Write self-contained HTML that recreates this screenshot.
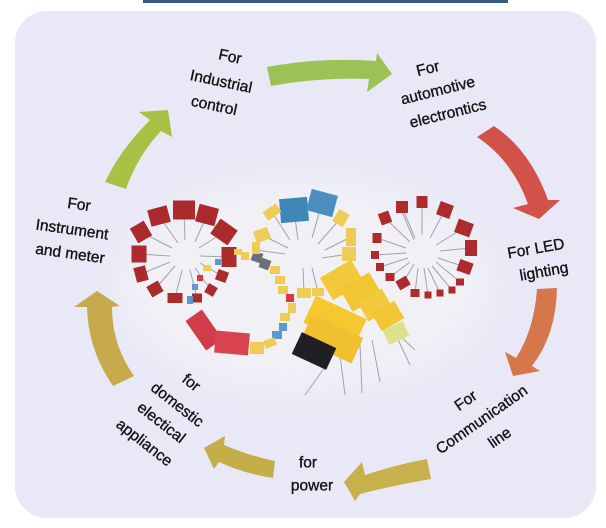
<!DOCTYPE html>
<html><head><meta charset="utf-8"><style>
html,body{margin:0;padding:0;background:#fff;}
svg{display:block;}
text{font-family:"Liberation Sans",sans-serif;font-size:15.5px;fill:#141414;stroke:#141414;stroke-width:0.35px;}
</style></head><body>
<svg width="606" height="528" viewBox="0 0 606 528" xmlns="http://www.w3.org/2000/svg">
<defs>
<filter id="bl" x="-20%" y="-20%" width="140%" height="140%"><feGaussianBlur stdDeviation="18"/></filter>
</defs>
<rect x="143" y="0" width="365" height="3" fill="#35597f"/>
<rect x="15" y="11" width="581" height="507" rx="32" fill="#e8e8f7"/>
<ellipse cx="305" cy="285" rx="190" ry="110" fill="#f0f0f5" filter="url(#bl)"/>

<!-- arrows -->
<path d="M267,67 Q320,57 376,61 L377,53 L392,74 L367,92 L369,79 Q320,77 271,86 Z" fill="#9cc154"/>
<path d="M477,137 L494,126 Q530,150 548,200 L560,200 L539,219 L513,208 L528,204 Q512,160 477,137 Z" fill="#d2524a"/>
<path d="M537,289 L557,288 Q556,335 532,366 L540,371 L513,376 L505,352 L516,358 Q534,330 537,289 Z" fill="#d5774a"/>
<path d="M427,459 L431,479 Q395,485 360,494 L355,501 L344,482 L362,462 L365,475 Q395,465 427,459 Z" fill="#c8b04c"/>
<path d="M275,461 L273,478 Q245,474 219,462 L214,469 L204,448 L225,436 L224,445 Q250,456 275,461 Z" fill="#c5ad4a"/>
<path d="M113,386 L134,376 Q112,345 112,307 L120,306 L97,291 L74,307 L87,307 Q88,350 113,386 Z" fill="#c6aa4b"/>
<path d="M105,182 L126,189 Q138,155 161,131 L172,137 L168,110 L139,112 L150,120 Q120,150 105,182 Z" fill="#a8c043"/>

<!-- wires -->
<g stroke="#a3a3ad" stroke-width="1" fill="none">
<path d="M141,232L172,248M159,216L178,243M184,210L185,240M207,215L195,242M224,232L199,248M229,257L200,256M222,276L200,263M211,290L195,268M139,254L170,256M141,274L170,262M155,289L175,266M175,298L182,270M197,298L190,270"/>
<path d="M294,210L298,240M322,203L312,238M272,212L290,240M262,235L288,248M256,250L285,254M351,237L325,250M349,254L322,258M341,218L318,244M304,293L303,268M318,292L312,268"/>
<path d="M402,207L415,238M422,202L422,235M445,210L430,238M464,228L436,245M471,248L440,251M465,267L438,258M460,282L436,262M452,290L432,266M440,293L428,268M428,295L424,268M415,293L418,268M403,283L414,264M390,277L410,262M380,267L408,258M375,255L406,253M377,238L406,248M385,218L410,242M400,207L414,240"/>
<path d="M360,345L362,393M372,340L380,382M395,333L410,365M388,325L415,350M330,360L305,395M340,355L345,395"/>
</g>

<!-- left red ring -->
<g fill="#ab2a2c">
<rect transform="translate(141,232) rotate(-30)" x="-8" y="-8.5" width="16" height="17"/>
<rect transform="translate(159,216) rotate(-15)" x="-10" y="-8.5" width="20" height="17"/>
<rect transform="translate(184,210)" x="-11" y="-9.5" width="22" height="19"/>
<rect transform="translate(207,215) rotate(15)" x="-10" y="-9" width="20" height="18"/>
<rect transform="translate(224,232) rotate(35)" x="-10.5" y="-9" width="21" height="18"/>
<rect transform="translate(229,257)" x="-7.5" y="-10" width="15" height="20"/>
<rect transform="translate(222,276) rotate(20)" x="-5.5" y="-5.5" width="11" height="11"/>
<rect transform="translate(211,290) rotate(30)" x="-5" y="-5" width="10" height="10"/>
<rect transform="translate(139,254)" x="-7.5" y="-8.5" width="15" height="17"/>
<rect transform="translate(141,274) rotate(-15)" x="-6" y="-7.5" width="12" height="15"/>
<rect transform="translate(155,289) rotate(-30)" x="-6.5" y="-6" width="13" height="12"/>
<rect transform="translate(175,298)" x="-7.5" y="-5" width="15" height="10"/>
<rect transform="translate(197,298)" x="-5" y="-4.5" width="10" height="9"/>
</g>

<!-- middle-left ring -->
<g>
<rect transform="translate(238,252)" x="-4" y="-3" width="8" height="6" fill="#efcc55"/>
<rect transform="translate(245,256)" x="-4" y="-4" width="8" height="8" fill="#efcc55"/>
<rect transform="translate(257,257) rotate(20)" x="-5" y="-5" width="10" height="10" fill="#6d6f78"/>
<rect transform="translate(265,264) rotate(20)" x="-5" y="-5" width="10" height="10" fill="#6d6f78"/>
<rect transform="translate(275,270)" x="-5" y="-4" width="10" height="8" fill="#efcc55"/>
<rect transform="translate(280,280)" x="-5" y="-4" width="10" height="8" fill="#efcc55"/>
<rect transform="translate(283,290)" x="-5" y="-4" width="10" height="8" fill="#efcc55"/>
<rect transform="translate(290,298)" x="-4" y="-4" width="8" height="8" fill="#d83a3a"/>
<rect transform="translate(292,308)" x="-4" y="-5" width="8" height="10" fill="#efcc55"/>
<rect transform="translate(285,317)" x="-5" y="-4" width="10" height="8" fill="#efcc55"/>
<rect transform="translate(283,327)" x="-4" y="-4" width="8" height="8" fill="#5a9ad0"/>
<rect transform="translate(277,335)" x="-5" y="-4" width="10" height="8" fill="#5a9ad0"/>
<rect transform="translate(270,343) rotate(-20)" x="-6" y="-4" width="12" height="8" fill="#efcc55"/>
<rect transform="translate(257,348)" x="-7" y="-6" width="14" height="12" fill="#efcc55"/>
<rect transform="translate(195,287)" x="-3" y="-3" width="6" height="6" fill="#5a9ad0"/>
<rect transform="translate(200,278)" x="-3" y="-3" width="6" height="6" fill="#d83a3a"/>
<rect transform="translate(207,268)" x="-4" y="-3" width="8" height="6" fill="#efcc55"/>
<rect transform="translate(218,262)" x="-3" y="-3" width="6" height="6" fill="#5a9ad0"/>
<rect transform="translate(190,300)" x="-3" y="-4" width="6" height="8" fill="#5a9ad0"/>
<rect transform="translate(204,330) rotate(55)" x="-18" y="-10" width="36" height="20" fill="#d23c4a"/>
<rect transform="translate(232,343) rotate(5)" x="-17" y="-11" width="34" height="22" fill="#d8434f"/>
</g>

<!-- middle ring -->
<g>
<rect transform="translate(294,210) rotate(-5)" x="-14" y="-12" width="28" height="24" fill="#3f86b8"/>
<rect transform="translate(322,203) rotate(15)" x="-13.5" y="-11" width="27" height="22" fill="#4a8fbf"/>
<rect transform="translate(272,212) rotate(-35)" x="-8" y="-5" width="16" height="10" fill="#efcc55"/>
<rect transform="translate(262,235) rotate(-20)" x="-7.5" y="-6" width="15" height="12" fill="#efcc55"/>
<rect transform="translate(256,248)" x="-4" y="-6" width="8" height="12" fill="#efcc55"/>
<rect transform="translate(341,218) rotate(30)" x="-6" y="-7" width="12" height="14" fill="#efcc55"/>
<rect transform="translate(351,237)" x="-5" y="-9" width="10" height="18" fill="#efcc55"/>
<rect transform="translate(349,254)" x="-7" y="-7" width="14" height="14" fill="#efcc55"/>
<rect transform="translate(304,293)" x="-7" y="-5" width="14" height="10" fill="#efcc55"/>
<rect transform="translate(318,292)" x="-6" y="-4" width="12" height="8" fill="#efcc55"/>
</g>

<!-- right red ring -->
<g fill="#ae2b2d">
<rect transform="translate(402,207)" x="-6" y="-6" width="12" height="12"/>
<rect transform="translate(422,202)" x="-5.5" y="-6" width="11" height="12"/>
<rect transform="translate(445,210) rotate(20)" x="-7" y="-7" width="14" height="14"/>
<rect transform="translate(464,228) rotate(20)" x="-8" y="-7" width="16" height="14"/>
<rect transform="translate(471,248)" x="-6" y="-8" width="12" height="16"/>
<rect transform="translate(465,267) rotate(20)" x="-7" y="-6" width="14" height="12"/>
<rect transform="translate(460,282)" x="-4" y="-3.5" width="8" height="7"/>
<rect transform="translate(452,290)" x="-3.5" y="-3.5" width="7" height="7"/>
<rect transform="translate(440,293)" x="-3.5" y="-3.5" width="7" height="7"/>
<rect transform="translate(428,295)" x="-3.5" y="-3.5" width="7" height="7"/>
<rect transform="translate(415,293)" x="-4.5" y="-4" width="9" height="8"/>
<rect transform="translate(403,283) rotate(-30)" x="-6" y="-5" width="12" height="10"/>
<rect transform="translate(390,277)" x="-4.5" y="-4" width="9" height="8"/>
<rect transform="translate(380,267)" x="-4" y="-4" width="8" height="8"/>
<rect transform="translate(375,255)" x="-4" y="-4" width="8" height="8"/>
<rect transform="translate(377,238)" x="-4.5" y="-5" width="9" height="10"/>
<rect transform="translate(385,218) rotate(-20)" x="-5.5" y="-6" width="11" height="12"/>
</g>

<!-- big yellow caps -->
<g>
<rect transform="translate(342,280) rotate(-30)" x="-18" y="-13" width="36" height="26" fill="#f2c93a"/>
<rect transform="translate(361,292) rotate(-30)" x="-17" y="-13" width="34" height="26" fill="#f0c632"/>
<rect transform="translate(375,305) rotate(-30)" x="-14" y="-11" width="28" height="22" fill="#f2c93a"/>
<rect transform="translate(388,316) rotate(-30)" x="-13" y="-10" width="26" height="20" fill="#f0c632"/>
<rect transform="translate(396,333) rotate(-25)" x="-11" y="-8" width="22" height="16" fill="#dfe08a"/>
<rect transform="translate(335,321) rotate(25)" x="-28" y="-15" width="56" height="30" fill="#f4c82e"/>
<rect transform="translate(332,339) rotate(25)" x="-28" y="-14" width="56" height="28" fill="#f0c030"/>
<rect transform="translate(314,351) rotate(25)" x="-19" y="-12" width="38" height="24" fill="#1f1f24"/>
</g>

<!-- labels -->
<g dominant-baseline="central" text-anchor="middle">
<text transform="translate(230,57) rotate(12)">For</text>
<text transform="translate(221,82) rotate(12)">Industrial</text>
<text transform="translate(214,106) rotate(12)">control</text>
<text transform="translate(428,69) rotate(-14)">For</text>
<text transform="translate(438,91) rotate(-14)">automotive</text>
<text transform="translate(448,114) rotate(-14)">electrontics</text>
<text transform="translate(536,249) rotate(-10)">For LED</text>
<text transform="translate(544,272) rotate(-10)">lighting</text>
<text transform="translate(466,401) rotate(-35)">For</text>
<text transform="translate(482,420) rotate(-35)">Communication</text>
<text transform="translate(500,438) rotate(-35)">line</text>
<text transform="translate(308,463)">for</text>
<text transform="translate(312,486)">power</text>
<text transform="translate(191,383) rotate(38)">for</text>
<text transform="translate(177,405) rotate(38)">domestic</text>
<text transform="translate(161,423) rotate(38)">electical</text>
<text transform="translate(144,443) rotate(38)">appliance</text>
<text transform="translate(79,205) rotate(8)">For</text>
<text transform="translate(72,230) rotate(8)">Instrument</text>
<text transform="translate(70,254) rotate(8)">and meter</text>
</g>
</svg>
</body></html>
